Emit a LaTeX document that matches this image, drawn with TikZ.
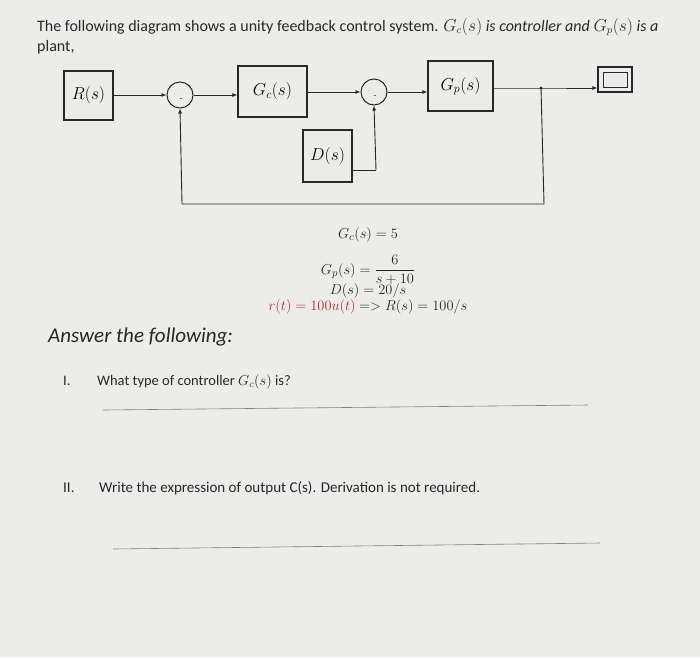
\documentclass[tikz,border=0pt]{standalone}
\usepackage{amsmath}
\usepackage{fontspec}
\setmainfont{Carlito}
\usetikzlibrary{arrows.meta}
\definecolor{paper}{RGB}{236,236,234}
\definecolor{ink}{RGB}{40,40,40}
\definecolor{redink}{RGB}{170,50,50}
\tikzset{
  blk/.style={draw=ink, line width=1.2pt, fill=paper, minimum width=#1, inner sep=0pt},
  sumn/.style={circle, draw=ink, line width=1pt, minimum size=26pt, inner sep=0pt},
  sig/.style={draw=ink, line width=0.9pt, -{Latex[length=5pt,width=4pt]}},
  wire/.style={draw=ink, line width=0.9pt},
  txt/.style={text=ink, anchor=base west, inner sep=0pt},
  eq/.style={text=ink, anchor=base, inner sep=0pt, font=\fontsize{15}{17}\selectfont},
  rule/.style={draw=gray, line width=0.6pt}
}
\begin{document}
\begin{tikzpicture}[x=1pt,y=-1pt]
\fill[paper] (0,0) rectangle (700,657);
\useasboundingbox (0,0) rectangle (700,657);
\node[txt, font=\fontsize{16}{18}\selectfont] (t1) at (37,31) {The following diagram shows a unity feedback control system. $G_c(s)$ \textit{is controller and} $G_p(s)$ \textit{is a}};
\node[txt, font=\fontsize{16}{18}\selectfont] (t2) at (37,51) {plant,};
% blocks
\node[blk=49pt, minimum height=49pt, font=\fontsize{17}{19}\selectfont] (R) at (88.5,95.5) {$R(s)$};
\node[sumn] (s1) at (180,95) {};
\node[blk=69pt, minimum height=51pt, font=\fontsize{17}{19}\selectfont] (Gc) at (272.5,91.5) {$G_c(s)$};
\node[sumn] (s2) at (374,92) {};
\node[blk=65pt, minimum height=50pt, font=\fontsize{17}{19}\selectfont] (Gp) at (460.5,86) {$G_p(s)$};
\node[blk=49pt, minimum height=52pt, font=\fontsize{17}{19}\selectfont] (D) at (327.5,156) {$D(s)$};
\node[draw=ink, line width=1.2pt, minimum width=34pt, minimum height=25pt, inner sep=0pt] (sc) at (615,79.5) {};
\node[draw=ink, line width=0.8pt, minimum width=24pt, minimum height=15pt, inner sep=0pt] (scin) at (sc) {};
\node[font=\tiny, text=ink] at ([xshift=-5pt,yshift=1pt]s1.center) {.};
\node[font=\small, text=ink] at ([xshift=1pt,yshift=-5pt]s1.center) {-};
\node[font=\tiny, text=ink] at ([xshift=-5pt,yshift=1pt]s2.center) {.};
\node[font=\small, text=ink] at ([xshift=1pt,yshift=-5pt]s2.center) {-};
\coordinate (br) at (541,88);
\coordinate (fb1) at (544,204);
\coordinate (fb2) at (182,204);
\coordinate (dc) at (376,170);
% connections
\draw[sig] (R.east |- s1.west) -- (s1.west);
\draw[sig] (s1.east) -- (s1.east -| Gc.west);
\draw[sig] (Gc.east |- s2.west) -- (s2.west);
\draw[sig] (s2.east) -- (s2.east -| Gp.west);
\draw[sig] (Gp.east |- br) -- (br) -- (br -| sc.west);
\fill[ink] (br) circle (1.6pt);
\draw[wire] (br) -- (fb1) -- (fb2);
\draw[sig] (fb2) -- (s1.south);
\draw[wire] (D.east |- dc) -- (dc);
\draw[sig] (dc) -- (s2.south);
% equations
\node[eq] (e1) at (368,238) {$G_c(s)=5$};
\node[eq] (e2) at (368,274) {$G_p(s)=\dfrac{6}{s+10}$};
\node[eq] (e3) at (368,294) {$D(s)=20/s$};
\node[eq] (e4) at (368,310) {\textcolor{redink}{$r(t)=100u(t)$} $=>R(s)=100/s$};
\node[txt, font=\fontsize{21}{23}\selectfont\itshape] (ans) at (48,342) {Answer the following:};
\node[txt, font=\fontsize{14.5}{16}\selectfont] (q1n) at (63,385) {I.};
\node[txt, font=\fontsize{14.5}{16}\selectfont] (q1) at (97,385) {What type of controller $G_c(s)$ is?};
\draw[rule] (103,410) -- (588,405);
\node[txt, font=\fontsize{15}{17}\selectfont] (q2n) at (63,492) {II.};
\node[txt, font=\fontsize{15}{17}\selectfont] (q2) at (99,492) {Write the expression of output C(s). Derivation is not required.};
\draw[rule] (113,549) -- (600,543);
\end{tikzpicture}
\end{document}
